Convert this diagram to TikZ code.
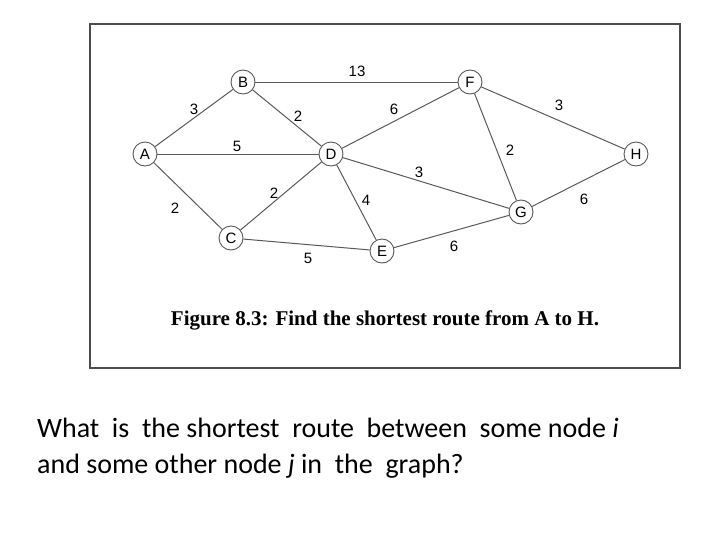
\documentclass[tikz,border=0pt]{standalone}
\usepackage{fontspec}
\setmainfont{Liberation Sans}
\newfontfamily\capfont{Liberation Serif}
\newfontfamily\qfont{Carlito}
\begin{document}
\begin{tikzpicture}[x=1pt,y=-1pt,
  vert/.style={circle,draw=black!65,fill=white,line width=0.9pt,minimum size=24pt,inner sep=0pt,font=\fontsize{15}{15}\selectfont},
  edge/.style={draw=black!65,line width=1pt},
  wlab/.style={font=\fontsize{15}{15}\selectfont,inner sep=0pt}]
\useasboundingbox (0,0) rectangle (728,546);
\draw[black!70,line width=2.2pt] (90,24) rectangle (680,368);
\node[vert] (A) at (145,154) {A};
\node[vert] (B) at (243,82) {B};
\node[vert] (C) at (231,238) {C};
\node[vert] (D) at (331,154) {D};
\node[vert] (E) at (382,251) {E};
\node[vert] (F) at (470,82) {F};
\node[vert] (G) at (521,212) {G};
\node[vert] (H) at (636,154) {H};
\draw[edge] (A) -- (B);
\draw[edge] (A) -- (D);
\draw[edge] (A) -- (C);
\draw[edge] (B) -- (D);
\draw[edge] (B) -- (F);
\draw[edge] (C) -- (D);
\draw[edge] (C) -- (E);
\draw[edge] (D) -- (E);
\draw[edge] (D) -- (F);
\draw[edge] (D) -- (G);
\draw[edge] (E) -- (G);
\draw[edge] (F) -- (G);
\draw[edge] (F) -- (H);
\draw[edge] (G) -- (H);
\node[wlab] (l1) at (357,71) {13};
\node[wlab] (l2) at (194,109) {3};
\node[wlab] (l3) at (298,116) {2};
\node[wlab] (l4) at (237,146) {5};
\node[wlab] (l5) at (394,109) {6};
\node[wlab] (l6) at (510,150) {2};
\node[wlab] (l7) at (559,105) {3};
\node[wlab] (l8) at (419,172) {3};
\node[wlab] (l9) at (274,193) {2};
\node[wlab] (l10) at (366,200) {4};
\node[wlab] (l11) at (175,208) {2};
\node[wlab] (l12) at (584,199) {6};
\node[wlab] (l13) at (308,258) {5};
\node[wlab] (l14) at (454,246) {6};
\node[font=\capfont\bfseries\fontsize{21}{21}\selectfont,inner sep=0pt] (cap) at (385,320) {Figure 8.3: Find the shortest route from A to H.};
\node[font=\qfont\fontsize{28}{36}\selectfont,inner sep=0pt,anchor=base west,align=left] (q) at (37,473)
  {What\ \ is\ \ the shortest\ \ route\ \ between\ \ some node \textit{i}\\
   and some other node \textit{j} in\ \ the\ \ graph?};
\end{tikzpicture}
\end{document}
